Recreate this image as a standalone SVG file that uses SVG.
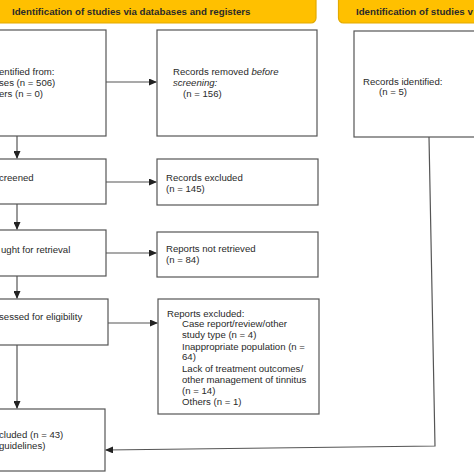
<svg xmlns="http://www.w3.org/2000/svg" width="474" height="474" viewBox="0 0 474 474">
<defs>
<marker id="ah" markerWidth="8" markerHeight="7" refX="7" refY="3.5" orient="auto" markerUnits="userSpaceOnUse">
<path d="M0,0 L8,3.5 L0,7 Z" fill="#222"/>
</marker>
<style>
.banner{fill:#FFC000;stroke:#E3AA00;stroke-width:1.2}
.bt{font-family:"Liberation Sans",Arial,sans-serif;font-size:9.7px;font-weight:bold;fill:#2a2a2a}
.box{fill:#fff;stroke:#555;stroke-width:1.2}
.t{font-family:"Liberation Sans",Arial,sans-serif;font-size:9.6px;fill:#2a2a2a}
.c{fill:none;stroke:#555;stroke-width:1.2}
</style>
</defs>
<rect width="474" height="474" fill="#fff"/>
<g id="banner-db">
<rect class="banner" x="-10" y="-8" width="326" height="31" rx="5"/>
<text class="bt" x="12" y="15">Identification of studies via databases and registers</text>
</g>
<g id="banner-other">
<rect class="banner" x="338.5" y="-8" width="150" height="31" rx="5"/>
<text class="bt" x="356" y="15">Identification of studies v</text>
</g>
<g id="identified">
<rect class="box" x="-2" y="30" width="108" height="106"/>
<text class="t" x="-1" y="75">entified from:</text>
<text class="t" x="-1" y="86">ses (n = 506)</text>
<text class="t" x="-1" y="96.5">ers (n = 0)</text>
</g>
<g id="removed">
<rect class="box" x="157" y="30" width="160" height="106"/>
<text class="t" x="173" y="75">Records removed <tspan font-style="italic">before</tspan></text>
<text class="t" x="173" y="86" font-style="italic">screening:</text>
<text class="t" x="183" y="96.5">(n = 156)</text>
</g>
<g id="other-identified">
<rect class="box" x="354" y="31" width="130" height="106"/>
<text class="t" x="363" y="84.5">Records identified:</text>
<text class="t" x="379" y="95">(n = 5)</text>
</g>
<g id="screened">
<rect class="box" x="-2" y="159" width="108" height="45"/>
<text class="t" x="-1" y="180.5">creened</text>
</g>
<g id="excluded">
<rect class="box" x="157" y="159" width="161" height="46"/>
<text class="t" x="166" y="180.5">Records excluded</text>
<text class="t" x="166" y="191.5">(n = 145)</text>
</g>
<g id="sought">
<rect class="box" x="-2" y="230" width="108" height="46"/>
<text class="t" x="1" y="252.5">ught for retrieval</text>
</g>
<g id="not-retrieved">
<rect class="box" x="157" y="232" width="161" height="45"/>
<text class="t" x="166" y="251.5">Reports not retrieved</text>
<text class="t" x="166" y="263">(n = 84)</text>
</g>
<g id="assessed">
<rect class="box" x="-2" y="299" width="110" height="46"/>
<text class="t" x="-1" y="319.5">sessed for eligibility</text>
</g>
<g id="reports-excluded">
<rect class="box" x="158" y="299" width="161" height="115"/>
<text class="t" x="167" y="316.5">Reports excluded:</text>
<text class="t" x="182" y="327">Case report/review/other</text>
<text class="t" x="182" y="338">study type (n = 4)</text>
<text class="t" x="182" y="349.5">Inappropriate population (n =</text>
<text class="t" x="182" y="360">64)</text>
<text class="t" x="182" y="371.5">Lack of treatment outcomes/</text>
<text class="t" x="182" y="382.5">other management of tinnitus</text>
<text class="t" x="182" y="393.5">(n = 14)</text>
<text class="t" x="182" y="404.5">Others (n = 1)</text>
</g>
<g id="included">
<rect class="box" x="-2" y="409" width="107" height="62"/>
<text class="t" x="-1" y="437.5">cluded (n = 43)</text>
<text class="t" x="-1" y="448.5">guidelines)</text>
</g>
<g id="connectors">
<line class="c" x1="106" y1="82" x2="156" y2="82" marker-end="url(#ah)"/>
<line class="c" x1="106" y1="182" x2="156" y2="182" marker-end="url(#ah)"/>
<line class="c" x1="106" y1="253" x2="156" y2="253" marker-end="url(#ah)"/>
<line class="c" x1="108" y1="323" x2="157" y2="323" marker-end="url(#ah)"/>
<line class="c" x1="17" y1="136" x2="17" y2="158" marker-end="url(#ah)"/>
<line class="c" x1="17" y1="204" x2="17" y2="229" marker-end="url(#ah)"/>
<line class="c" x1="17" y1="276" x2="17" y2="298" marker-end="url(#ah)"/>
<line class="c" x1="17" y1="345" x2="17" y2="408" marker-end="url(#ah)"/>
<polyline class="c" points="429,137 435,446 106,450" marker-end="url(#ah)"/>
</g>
</svg>
